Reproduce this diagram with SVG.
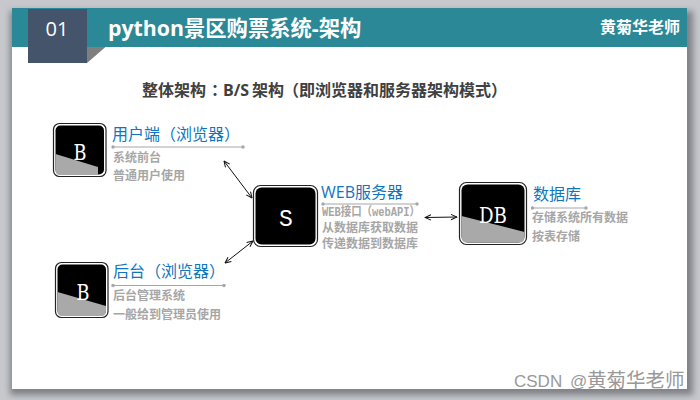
<svg xmlns="http://www.w3.org/2000/svg" width="700" height="400" viewBox="0 0 700 400">
<defs>
<filter id="blur" x="-5%" y="-5%" width="110%" height="110%"><feGaussianBlur stdDeviation="3"/></filter>
<marker id="ah" viewBox="0 0 7 7" refX="6.500" refY="3.500" markerWidth="7" markerHeight="7" orient="auto-start-reverse" markerUnits="userSpaceOnUse"><path d="M0.500,0.800L6.500,3.500L0.500,6.200" fill="none" stroke="#111" stroke-width="1"/></marker>
<marker id="dot" viewBox="0 0 4 4" refX="2" refY="2" markerWidth="4" markerHeight="4" markerUnits="userSpaceOnUse"><circle cx="2" cy="2" r="1.700" fill="#a6a6a6"/></marker>
</defs>
<style>
.cjk{font-family:"Open Sans","Noto Sans CJK SC",sans-serif}
.tc{font-family:"Noto Sans CJK TC",sans-serif}
.blue{font-size:16px;fill:#0f75bd}
.grey{font-size:12px;font-weight:700;fill:#a6a6a6}
.rule{stroke:#a6a6a6;stroke-width:1.200;marker-start:url(#dot);marker-end:url(#dot)}
.box{fill:#000}
.outer{fill:#fff;stroke:#222;stroke-width:1.200}
.wedge{fill:#a9a9a9}
.let{font-family:"DejaVu Serif",serif;font-size:23px;fill:#fff;text-anchor:middle}
.conn{stroke:#111;stroke-width:1;fill:none;marker-start:url(#ah);marker-end:url(#ah)}
</style>
<rect width="700" height="400" fill="#c6c8cc"/>
<rect x="10" y="11" width="683" height="384" fill="#6d7074" filter="url(#blur)" opacity=".8"/>
<rect x="12" y="8" width="675" height="381" fill="#fff"/>
<rect x="12" y="8" width="675" height="39" fill="#2b8896"/>
<polygon points="87,47 105.500,47 87,63" fill="#7f7f7f"/>
<rect x="28" y="9" width="59" height="54" fill="#44546a"/>
<text x="57" y="36" class="cjk" font-size="20" fill="#fff" text-anchor="middle">01</text>
<text x="108" y="36" class="cjk" font-size="21.300" font-weight="700" fill="#fff">python景区购票系统-架构</text>
<text x="680" y="33" font-family="'Liberation Serif','Noto Sans CJK SC',serif" font-size="16" font-weight="700" fill="#fff" text-anchor="end">黄菊华老师</text>
<text class="cjk" font-size="16" font-weight="700" fill="#404040" y="96"><tspan x="142">整体架构</tspan><tspan class="tc" x="207">：</tspan><tspan x="223">B/S</tspan><tspan x="252">架构</tspan><tspan class="tc" x="283">（</tspan><tspan x="299">即浏览器和服务器架构模式</tspan><tspan class="tc" x="491">）</tspan></text>

<g id="connectors">
<line class="conn" x1="224" y1="161" x2="252" y2="198"/>
<line class="conn" x1="225" y1="263" x2="253" y2="241"/>
<line class="conn" x1="425" y1="217.500" x2="457" y2="217"/>
</g>

<g id="node-user">
<rect class="outer" x="53.500" y="123.500" width="52.500" height="53" rx="6"/>
<rect class="box" x="55.500" y="125.500" width="48.500" height="49" rx="5"/>
<path class="wedge" d="M55.500,154L98,167V175H60Q55.500,175 55.500,170Z"/>
<text class="let" x="80" y="160" textLength="13" lengthAdjust="spacingAndGlyphs">B</text>
<text class="cjk blue" x="112" y="139.500">用户端<tspan class="tc">（</tspan>浏览器<tspan class="tc">）</tspan></text>
<line class="rule" x1="113" y1="147" x2="243" y2="147"/>
<text class="cjk grey" x="113" y="162">系统前台</text>
<text class="cjk grey" x="113" y="180">普通用户使用</text>
</g>

<g id="node-admin">
<rect class="outer" x="55.500" y="262.500" width="52.500" height="55" rx="6"/>
<rect class="box" x="57.500" y="264.500" width="48.500" height="51" rx="5"/>
<path class="wedge" d="M57.500,292L106,306V311Q106,316 101,316H62Q57.500,316 57.500,311Z"/>
<text class="let" x="83" y="300" textLength="13" lengthAdjust="spacingAndGlyphs">B</text>
<text class="cjk blue" x="113" y="277">后台<tspan class="tc">（</tspan>浏览器<tspan class="tc">）</tspan></text>
<line class="rule" x1="113" y1="285.500" x2="224" y2="285.500"/>
<text class="cjk grey" x="113" y="300">后台管理系统</text>
<text class="cjk grey" x="113" y="319">一般给到管理员使用</text>
</g>

<g id="node-server">
<rect class="outer" x="253.500" y="185.500" width="64" height="61" rx="7"/>
<rect class="box" x="255.500" y="187.500" width="60" height="57" rx="6"/>
<text x="286" y="226" font-family="'Liberation Mono',monospace" font-size="23" fill="#fff" text-anchor="middle">S</text>
<text class="cjk blue" x="321" y="198">WEB服务器</text>
<line class="rule" x1="323" y1="204" x2="417" y2="204"/>
<text font-size="12" font-weight="700" fill="#a6a6a6" x="322" y="216" font-family="'Liberation Mono','Noto Sans CJK TC',monospace" textLength="98" lengthAdjust="spacingAndGlyphs">WEB接口（webAPI）</text>
<text class="cjk grey" x="322" y="232">从数据库获取数据</text>
<text class="cjk grey" x="322" y="248">传递数据到数据库</text>
</g>

<g id="node-db">
<rect class="outer" x="459.500" y="182.500" width="67" height="62" rx="7"/>
<rect class="box" x="461.500" y="184.500" width="63" height="58" rx="6"/>
<path class="wedge" d="M461.500,216L524.500,232V237Q524.500,242.500 519,242.500H467Q461.500,242.500 461.500,237Z"/>
<text class="let" x="493" y="223" textLength="28" lengthAdjust="spacingAndGlyphs">DB</text>
<text class="cjk blue" x="533" y="199.500">数据库</text>
<line class="rule" x1="532.500" y1="208" x2="586" y2="208"/>
<text class="cjk grey" x="532" y="222">存储系统所有数据</text>
<text class="cjk grey" x="532" y="241">按表存储</text>
</g>

<text y="387" font-family="'Liberation Sans','Noto Sans CJK SC',sans-serif" font-size="17" fill="#999"><tspan x="514">CSDN</tspan><tspan x="570">@</tspan><tspan x="587" font-size="19.500">黄菊华老师</tspan></text>
</svg>
